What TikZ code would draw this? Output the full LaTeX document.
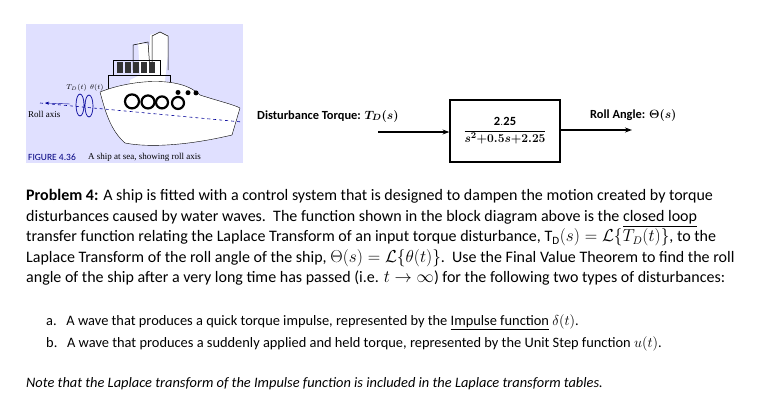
\documentclass[tikz,border=0pt]{standalone}
\usepackage{amsmath}
\usepackage{fontspec}
\setmainfont{Carlito}
\newfontfamily\serifship{Liberation Serif}
\usetikzlibrary{arrows.meta}
\begin{document}
\begin{tikzpicture}[x=1pt,y=-1pt,
  lbl/.style={font=\fontsize{12.4}{14}\selectfont\bfseries, inner sep=0pt},
  body/.style={font=\fontsize{16}{20.6}\selectfont, inner sep=0pt, anchor=north west, align=left},
  conn/.style={-{Stealth[length=7pt,width=5pt]}, line width=1.2pt}]
\useasboundingbox (0,0) rectangle (766,410);
% ship picture
\fill[blue!12] (26,24) rectangle (243,163);
\fill[white] (140,75) -- (130,80) -- (128,95) -- (110,100) -- (170,100) -- (165,80) -- (168,55) -- (168,35) -- (160,32) -- (150,35) -- (150,45) -- (138,42) -- cycle;
\draw[line width=0.5pt] (133,70) -- (133,45) -- (148,42) -- (150,70);
\draw[line width=0.5pt] (152,70) -- (152,36) -- (160,32) -- (168,36) -- (168,70);
\foreach \i in {0,...,4} \fill[black!80] (117+\i*8,62) rectangle (123+\i*8,73);
\draw (113,60) rectangle (160,75);
\draw (108,75) rectangle (170,90);
\draw[fill=white] (100,92) .. controls (130,80) and (180,75) .. (200,95) .. controls (215,100) and (235,105) .. (240,108) -- (232,135) .. controls (190,145) and (150,148) .. (125,143) .. controls (110,130) and (105,110) .. (100,92);
\foreach \x/\r in {132/7,148/6.5,162/6,178/6} {\draw[line width=2.2pt] (\x,97+\x/30) circle (\r);}
\foreach \x/\y in {178,188,196} \fill (\x,88+\x/40) circle (2.5);
\draw[blue!60!black, dashed, line width=0.6pt] (40,103) -- (242,122);
\draw[blue!60!black, -{Stealth[length=4pt]}] (70,104) -- (45,103);
\draw[blue!60!black, line width=0.7pt] (80,105) ellipse (4 and 11) (89,106) ellipse (4 and 11);
\node[font=\serifship\fontsize{7}{8}\selectfont\itshape, inner sep=0] (tdlab) at (85,88) {$T_D(t)$\ \ $\theta(t)$};
\node[font=\serifship\fontsize{9}{10}\selectfont, inner sep=0, anchor=west] (rollax) at (28,114) {Roll axis};
\node[font=\fontsize{9.5}{11}\selectfont, inner sep=0, anchor=west, text=blue!50!black] (cap) at (28,157) {FIGURE 4.36};
\node[font=\serifship\fontsize{9}{11}\selectfont, inner sep=0, anchor=west] (cap2) at (88,157) {A ship at sea, showing roll axis};
% block diagram
\node[draw, line width=1.2pt, minimum width=110pt, minimum height=62pt, inner sep=0] (blk) at (505,131)
  {\fontsize{12.5}{14}\selectfont $\dfrac{\mathbf{2.25}}{\boldsymbol{s^2{+}0.5s{+}2.25}}$};
\coordinate (in) at (378,132);
\coordinate (out) at (632,130);
\draw[conn] (in) -- (blk.west|-in);
\draw[conn] (blk.east|-out) -- (out);
\node[lbl, anchor=west] (tdl) at (257,116) {Disturbance Torque: $\boldsymbol{T_D(s)}$};
\node[lbl, anchor=west] (ral) at (590,115) {Roll Angle: $\boldsymbol{\Theta(s)}$};
% text
\node[body] (prob) at (26,189) {\textbf{Problem 4:} A ship is fitted with a control system that is designed to dampen the motion created by torque\\
disturbances caused by water waves.\ \ The function shown in the block diagram above is the \underline{closed loop}\\
transfer function relating the Laplace Transform of an input torque disturbance, $\mathrm{T_D}(s)=\mathcal{L}\{T_D(t)\}$, to the\\
Laplace Transform of the roll angle of the ship, $\Theta(s)=\mathcal{L}\{\theta(t)\}$.\ \ Use the Final Value Theorem to find the roll\\
angle of the ship after a very long time has passed (i.e. $t\to\infty$) for the following two types of disturbances:};
\node[body, font=\fontsize{14.4}{22}\selectfont] (items) at (46,314) {a.\ \ \ A wave that produces a quick torque impulse, represented by the \underline{Impulse function} $\delta(t)$.\\
b.\ \ \ A wave that produces a suddenly applied and held torque, represented by the Unit Step function $u(t)$.};
\node[body, font=\fontsize{14.4}{16}\selectfont\itshape] (note) at (26,377) {Note that the Laplace transform of the Impulse function is included in the Laplace transform tables.};
\end{tikzpicture}
\end{document}
